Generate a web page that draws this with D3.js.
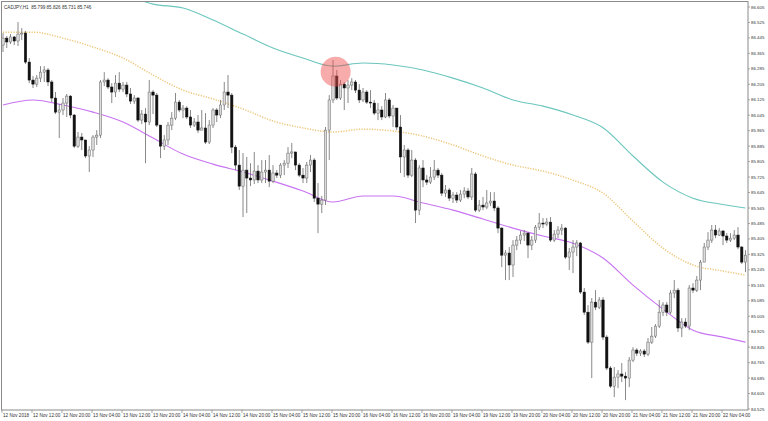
<!DOCTYPE html>
<html lang="en">
<head>
<meta charset="utf-8" />
<title>CADJPY H1</title>
<script src="https://d3js.org/d3.v7.min.js"></script>
<style>
  body { margin: 0; background: #fff; }
  svg { display: block; background: #fff; }
  text { font-family: 'Liberation Sans', Arial, sans-serif; fill: #333; }
</style>
</head>
<body>
<script>
// Chart header
const headerText = "CADJPY,H1  85.799 85.826 85.731 85.746";

// Hourly candles, 12 Nov 2018 00:00 onwards (open = previous close)
const firstOpen = 86.408;
const closes = [
  86.444, 86.424, 86.450, 86.429, 86.465, 86.470, 86.320, 86.227, 86.206, 86.237,
  86.268, 86.279, 86.217, 86.134, 86.061, 86.072, 86.108, 86.144, 86.046, 85.885,
  85.932, 85.917, 85.834, 85.865, 85.932, 85.942, 86.217, 86.227, 86.191, 86.165,
  86.211, 86.180, 86.201, 86.155, 86.118, 86.134, 86.020, 86.051, 86.010, 86.165,
  86.149, 85.994, 85.885, 85.917, 85.994, 86.030, 86.113, 86.072, 86.082, 86.036,
  85.994, 86.010, 85.968, 85.979, 85.906, 85.994, 86.072, 86.046, 86.098, 86.165,
  86.149, 85.880, 85.787, 85.678, 85.761, 85.720, 85.710, 85.756, 85.710, 85.751,
  85.761, 85.704, 85.746, 85.735, 85.787, 85.797, 85.849, 85.855, 85.787, 85.735,
  85.720, 85.787, 85.813, 85.616, 85.585, 85.606, 85.968, 86.124, 86.248, 86.134,
  86.206, 86.186, 86.201, 86.217, 86.175, 86.124, 86.165, 86.113, 86.108, 86.056,
  86.072, 86.036, 86.124, 86.041, 86.082, 85.984, 85.829, 85.865, 85.735, 85.813,
  85.554, 85.772, 85.710, 85.699, 85.725, 85.761, 85.735, 85.642, 85.658, 85.616,
  85.632, 85.606, 85.637, 85.653, 85.622, 85.741, 85.554, 85.580, 85.570, 85.591,
  85.601, 85.565, 85.461, 85.321, 85.332, 85.270, 85.373, 85.399, 85.425, 85.435,
  85.373, 85.399, 85.466, 85.487, 85.482, 85.492, 85.399, 85.430, 85.451, 85.461,
  85.311, 85.337, 85.363, 85.384, 85.130, 85.026, 84.871, 85.078, 85.052, 85.089,
  84.897, 84.737, 84.643, 84.690, 84.706, 84.695, 84.685, 84.778, 84.830, 84.814,
  84.825, 84.809, 84.871, 84.902, 84.954, 85.026, 85.063, 85.026, 85.125, 85.140,
  84.944, 84.975, 84.954, 85.151, 85.140, 85.192, 85.285, 85.363, 85.399, 85.451,
  85.425, 85.446, 85.420, 85.399, 85.409, 85.425, 85.363, 85.285, 85.321
];
const highs = [
  86.470, 86.455, 86.465, 86.455, 86.527, 86.496, 86.481, 86.341, 86.248, 86.253,
  86.299, 86.299, 86.289, 86.227, 86.165, 86.103, 86.134, 86.155, 86.149, 86.051,
  85.958, 85.953, 85.917, 85.885, 85.942, 85.968, 86.227, 86.268, 86.237, 86.211,
  86.253, 86.268, 86.217, 86.217, 86.186, 86.149, 86.139, 86.072, 86.082, 86.227,
  86.175, 86.160, 85.994, 85.942, 86.010, 86.061, 86.160, 86.124, 86.098, 86.092,
  86.072, 86.030, 86.046, 86.072, 86.056, 86.020, 86.082, 86.082, 86.124, 86.217,
  86.253, 86.160, 85.891, 85.865, 85.849, 85.829, 85.797, 85.855, 85.787, 85.813,
  85.813, 85.839, 85.787, 85.761, 85.797, 85.813, 85.880, 85.901, 85.855, 85.797,
  85.772, 85.803, 85.839, 85.823, 85.694, 85.627, 85.984, 86.149, 86.331, 86.279,
  86.227, 86.217, 86.227, 86.237, 86.227, 86.206, 86.186, 86.175, 86.175, 86.124,
  86.108, 86.092, 86.160, 86.134, 86.098, 86.082, 86.046, 85.891, 85.875, 85.865,
  85.823, 85.787, 85.813, 85.735, 85.777, 85.813, 85.772, 85.746, 85.684, 85.668,
  85.647, 85.647, 85.658, 85.673, 85.668, 85.772, 85.751, 85.606, 85.622, 85.658,
  85.647, 85.647, 85.575, 85.466, 85.347, 85.363, 85.399, 85.420, 85.446, 85.451,
  85.440, 85.420, 85.477, 85.539, 85.513, 85.513, 85.518, 85.451, 85.471, 85.482,
  85.466, 85.358, 85.399, 85.399, 85.389, 85.151, 85.063, 85.099, 85.140, 85.104,
  85.104, 84.907, 84.747, 84.742, 84.726, 84.763, 84.716, 84.794, 84.845, 84.840,
  84.835, 84.835, 84.892, 84.949, 84.964, 85.089, 85.078, 85.078, 85.140, 85.192,
  85.151, 84.995, 84.995, 85.166, 85.176, 85.213, 85.296, 85.384, 85.440, 85.477,
  85.477, 85.461, 85.451, 85.435, 85.435, 85.451, 85.466, 85.368, 85.347
];
const lows = [
  86.372, 86.393, 86.413, 86.408, 86.403, 86.434, 86.310, 86.211, 86.186, 86.191,
  86.217, 86.217, 86.196, 86.113, 86.051, 85.927, 86.046, 86.036, 86.030, 85.875,
  85.875, 85.865, 85.823, 85.751, 85.829, 85.891, 85.927, 86.196, 86.180, 86.108,
  86.139, 86.165, 86.165, 86.139, 86.103, 86.103, 86.010, 85.999, 85.797, 85.994,
  86.051, 85.984, 85.823, 85.865, 85.891, 85.968, 86.020, 86.061, 86.030, 86.025,
  85.979, 85.984, 85.953, 85.968, 85.896, 85.896, 85.979, 86.010, 86.030, 86.072,
  86.082, 85.849, 85.761, 85.658, 85.518, 85.539, 85.678, 85.689, 85.694, 85.694,
  85.694, 85.673, 85.694, 85.720, 85.720, 85.735, 85.772, 85.823, 85.761, 85.725,
  85.694, 85.694, 85.751, 85.596, 85.435, 85.539, 85.580, 85.813, 86.108, 86.124,
  86.124, 86.072, 86.108, 86.175, 86.160, 86.108, 86.113, 86.103, 86.082, 86.046,
  86.020, 86.020, 86.030, 86.030, 85.984, 85.968, 85.746, 85.725, 85.720, 85.725,
  85.487, 85.528, 85.673, 85.684, 85.689, 85.710, 85.720, 85.627, 85.622, 85.601,
  85.591, 85.591, 85.596, 85.616, 85.611, 85.606, 85.544, 85.544, 85.554, 85.559,
  85.575, 85.549, 85.435, 85.259, 85.192, 85.192, 85.208, 85.347, 85.378, 85.394,
  85.306, 85.347, 85.384, 85.451, 85.461, 85.471, 85.389, 85.389, 85.409, 85.425,
  85.301, 85.244, 85.228, 85.316, 85.120, 85.011, 84.861, 84.685, 85.037, 85.042,
  84.882, 84.726, 84.633, 84.587, 84.633, 84.664, 84.571, 84.638, 84.768, 84.799,
  84.799, 84.794, 84.799, 84.861, 84.892, 84.944, 85.006, 85.006, 85.016, 85.099,
  84.923, 84.897, 84.944, 84.933, 85.125, 85.130, 85.140, 85.285, 85.347, 85.384,
  85.409, 85.420, 85.373, 85.384, 85.389, 85.399, 85.352, 85.275, 85.233
];

// Time axis labels, one every 8 bars
const timeLabels = [
  "12 Nov 2018", "12 Nov 12:00", "12 Nov 20:00", "13 Nov 04:00", "13 Nov 12:00",
  "13 Nov 20:00", "14 Nov 04:00", "14 Nov 12:00", "14 Nov 20:00", "15 Nov 04:00",
  "15 Nov 12:00", "15 Nov 20:00", "16 Nov 04:00", "16 Nov 12:00", "16 Nov 20:00",
  "19 Nov 04:00", "19 Nov 12:00", "19 Nov 20:00", "20 Nov 04:00", "20 Nov 12:00",
  "20 Nov 20:00", "21 Nov 04:00", "21 Nov 12:00", "21 Nov 20:00", "22 Nov 04:00"
];
const labelStep = 8;

// Price axis labels
const priceTicks = [
  86.605, 86.525, 86.445, 86.365, 86.285, 86.205, 86.125, 86.045, 85.965,
  85.885, 85.805, 85.725, 85.645, 85.565, 85.485, 85.405, 85.325, 85.245,
  85.165, 85.085, 85.005, 84.925, 84.845, 84.765, 84.685, 84.605, 84.525
];

// Moving averages read at these bar indexes
const maIndex = [0, 8, 16, 24, 32, 40, 48, 56, 64, 72, 80, 88, 96, 104, 112,
  120, 128, 136, 144, 152, 160, 168, 176, 184, 192, 198];
const maTeal = [null, null, null, 86.713, 86.672, 86.620, 86.600, 86.538, 86.465,
  86.393, 86.341, 86.299, 86.315, 86.305, 86.279, 86.237, 86.186, 86.124, 86.092,
  86.046, 85.980, 85.834, 85.699, 85.616, 85.583, 85.565];
const maDotted = [86.475, 86.475, 86.444, 86.398, 86.341, 86.253, 86.175, 86.129,
  86.077, 86.015, 85.979, 85.958, 85.973, 85.963, 85.937, 85.891, 85.834, 85.787,
  85.756, 85.709, 85.642, 85.497, 85.357, 85.270, 85.239, 85.218];
const maViolet = [86.098, 86.124, 86.098, 86.061, 86.010, 85.927, 85.844, 85.792,
  85.751, 85.704, 85.653, 85.596, 85.627, 85.627, 85.591, 85.554, 85.508, 85.461,
  85.420, 85.383, 85.306, 85.166, 85.042, 84.933, 84.897, 84.871];

// Highlighted spot (bar index, price)
const highlight = { index: 88.7, price: 86.270 };

const W = 768, H = 421;
const plot = { left: 2, top: 2, right: 748, bottom: 410 };

const svg = d3.select("body").append("svg")
  .attr("width", W)
  .attr("height", H);

const n = closes.length;
const x = d3.scaleLinear().domain([0, n - 1]).range([3, 745.5]);
const y = d3.scaleLinear().domain([84.525, 86.605]).range([409, 7]);

svg.append("defs").append("clipPath").attr("id", "plotClip")
  .append("rect")
  .attr("x", plot.left).attr("y", plot.top)
  .attr("width", plot.right - plot.left).attr("height", plot.bottom - plot.top);

// frame
svg.append("rect")
  .attr("x", plot.left - 0.5).attr("y", plot.top - 0.5)
  .attr("width", plot.right - plot.left + 0.5)
  .attr("height", plot.bottom - plot.top + 0.5)
  .attr("fill", "none")
  .attr("stroke", "#8a8a8a")
  .attr("stroke-width", 1);

const chart = svg.append("g").attr("clip-path", "url(#plotClip)");

// moving averages
function maLine(values) {
  return d3.line()
    .defined(d => d[1] !== null)
    .x(d => x(d[0]))
    .y(d => y(d[1]))
    .curve(d3.curveMonotoneX)(maIndex.map((v, i) => [v, values[i]]));
}

chart.append("path")
  .attr("d", maLine(maDotted))
  .attr("fill", "none")
  .attr("stroke", "#eec67a")
  .attr("stroke-width", 1.5)
  .attr("stroke-dasharray", "1.2,1.4");

chart.append("path")
  .attr("d", maLine(maViolet))
  .attr("fill", "none")
  .attr("stroke", "#c874f2")
  .attr("stroke-width", 1.1);

chart.append("path")
  .attr("d", maLine(maTeal))
  .attr("fill", "none")
  .attr("stroke", "#6cc6bd")
  .attr("stroke-width", 1.1);

// candles
const bars = d3.range(n).map(i => ({
  i,
  o: i === 0 ? firstOpen : closes[i - 1],
  c: closes[i],
  h: highs[i],
  l: lows[i]
}));

const bodyW = 2.4;

const candle = chart.selectAll("g.candle")
  .data(bars)
  .enter()
  .append("g")
  .attr("class", "candle");

candle.append("line")
  .attr("x1", d => x(d.i))
  .attr("x2", d => x(d.i))
  .attr("y1", d => y(d.h))
  .attr("y2", d => y(d.l))
  .attr("stroke", "#6b6b6b")
  .attr("stroke-width", 0.8);

candle.append("rect")
  .attr("x", d => x(d.i) - bodyW / 2)
  .attr("y", d => y(Math.max(d.o, d.c)))
  .attr("width", bodyW)
  .attr("height", d => Math.max(0.8, Math.abs(y(d.o) - y(d.c))))
  .attr("fill", d => d.c >= d.o ? "#dcdcdc" : "#111")
  .attr("stroke", d => d.c >= d.o ? "#666" : "#111")
  .attr("stroke-width", 0.5);

// highlight circle
chart.append("circle")
  .attr("cx", x(highlight.index))
  .attr("cy", y(highlight.price))
  .attr("r", 15)
  .attr("fill", "#ee4f4f")
  .attr("opacity", 0.48);

// header
svg.append("text")
  .attr("x", 4)
  .attr("y", 8.5)
  .attr("font-size", 4.6)
  .attr("fill", "#222")
  .attr("xml:space", "preserve")
  .text(headerText);

// price axis
const pAxis = svg.append("g");
pAxis.selectAll("line")
  .data(priceTicks)
  .enter()
  .append("line")
  .attr("x1", plot.right)
  .attr("x2", plot.right + 2)
  .attr("y1", d => y(d))
  .attr("y2", d => y(d))
  .attr("stroke", "#777")
  .attr("stroke-width", 0.6);
pAxis.selectAll("text")
  .data(priceTicks)
  .enter()
  .append("text")
  .attr("x", plot.right + 3)
  .attr("y", d => y(d))
  .attr("dy", "0.35em")
  .attr("font-size", 4.4)
  .attr("fill", "#444")
  .text(d => d.toFixed(3));

// time axis
const tAxis = svg.append("g");
tAxis.selectAll("line")
  .data(timeLabels)
  .enter()
  .append("line")
  .attr("x1", (d, k) => x(k * labelStep) - 1)
  .attr("x2", (d, k) => x(k * labelStep) - 1)
  .attr("y1", plot.bottom)
  .attr("y2", plot.bottom + 3)
  .attr("stroke", "#777")
  .attr("stroke-width", 0.6);
tAxis.selectAll("text")
  .data(timeLabels)
  .enter()
  .append("text")
  .attr("x", (d, k) => x(k * labelStep))
  .attr("y", 417)
  .attr("font-size", 4.6)
  .attr("fill", "#444")
  .text(d => d);
</script>
</body>
</html>
